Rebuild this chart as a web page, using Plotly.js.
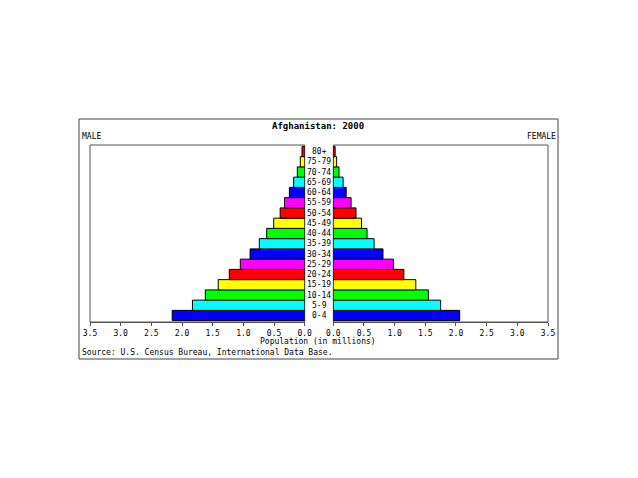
<!DOCTYPE html>
<html>
<head>
<meta charset="utf-8">
<script src="https://cdn.plot.ly/plotly-3.0.1.min.js"></script>
<style>html,body{margin:0;padding:0;background:#fff;}#chart{width:638px;height:478px;}</style>
</head>
<body>
<div id="chart"></div>
<script>
// Data
const ageGroups = ['0-4','5-9','10-14','15-19','20-24','25-29','30-34','35-39','40-44','45-49','50-54','55-59','60-64','65-69','70-74','75-79','80+'];
const maleMillions = [2.16,1.83,1.62,1.41,1.23,1.05,0.89,0.74,0.62,0.505,0.40,0.33,0.25,0.18,0.12,0.072,0.044];
const femaleMillions = [2.06,1.75,1.55,1.345,1.15,0.98,0.81,0.665,0.55,0.46,0.37,0.29,0.21,0.16,0.093,0.055,0.03];
const tickValues = [0,0.5,1,1.5,2,2.5,3,3.5];
const tickLabels = ['0.0','0.5','1.0','1.5','2.0','2.5','3.0','3.5'];

// Styles
const palette = ['#0000ff','#00ffff','#00ff00','#ffff00','#ff0000','#ff00ff'];
const barColors = ageGroups.map((_, i) => palette[i % palette.length]);
const W = 638, H = 478;
const px = x => x / W;
const py = y => (H - y) / H;
const mono = 'DejaVu Sans Mono, Liberation Mono, monospace';
const txt = {family: mono, size: 8, color: '#000'};

const leftDom = [px(90), px(304.7)];
const rightDom = [px(333.3), px(548)];
const yDom = [py(322), py(145)];

const traces = [
  {type:'bar', orientation:'h', y: ageGroups, x: maleMillions, xaxis:'x', yaxis:'y',
   marker:{color: barColors, line:{color:'#000', width:1}}, hoverinfo:'none'},
  {type:'bar', orientation:'h', y: ageGroups, x: femaleMillions, xaxis:'x2', yaxis:'y',
   marker:{color: barColors, line:{color:'#000', width:1}}, hoverinfo:'none'}
];

const xCommon = {
  tickvals: tickValues, ticktext: tickLabels, ticks:'outside', ticklen:3, tickcolor:'#555',
  showline:true, linecolor:'#555', linewidth:1, showgrid:false, zeroline:false,
  tickfont: txt, fixedrange:true
};

const annotations = ageGroups.map(a => ({
  x: 0.5, xref:'paper', y: a, yref:'y', text: a, showarrow:false,
  xanchor:'center', yanchor:'middle', font: txt
}));
annotations.push(
  {x: px(318), y: py(125.7), xref:'paper', yref:'paper', text:'<b>Afghanistan: 2000</b>', showarrow:false,
   xanchor:'center', yanchor:'middle', font:{family: mono, size: 9, color:'#000'}},
  {x: px(80), y: py(136.5), xref:'paper', yref:'paper', text:'MALE', showarrow:false,
   xanchor:'left', yanchor:'middle', font: txt},
  {x: px(557.5), y: py(136.5), xref:'paper', yref:'paper', text:'FEMALE', showarrow:false,
   xanchor:'right', yanchor:'middle', font: txt},
  {x: px(318), y: py(342), xref:'paper', yref:'paper', text:'Population (in millions)', showarrow:false,
   xanchor:'center', yanchor:'middle', font: txt},
  {x: px(80), y: py(352.5), xref:'paper', yref:'paper', text:'Source: U.S. Census Bureau, International Data Base.', showarrow:false,
   xanchor:'left', yanchor:'middle', font: txt}
);

const frame = {color:'#555', width:1};
const shapes = [
  {type:'rect', xref:'paper', yref:'paper', x0:px(79), x1:px(558), y0:py(359), y1:py(119), line:{color:'#444', width:1}},
  {type:'rect', xref:'paper', yref:'paper', x0:leftDom[0], x1:leftDom[1], y0:yDom[0], y1:yDom[1], line:frame, layer:'below'},
  {type:'rect', xref:'paper', yref:'paper', x0:rightDom[0], x1:rightDom[1], y0:yDom[0], y1:yDom[1], line:frame, layer:'below'}
];

const layout = {
  width: W, height: H,
  margin:{l:0, r:0, t:0, b:0},
  paper_bgcolor:'#fff', plot_bgcolor:'rgba(0,0,0,0)',
  showlegend:false, bargap:0,
  xaxis: Object.assign({}, xCommon, {domain: leftDom, range:[3.5, 0], anchor:'y'}),
  xaxis2: Object.assign({}, xCommon, {domain: rightDom, range:[0, 3.5], anchor:'y'}),
  yaxis: {domain: yDom, type:'category', categoryorder:'array', categoryarray: ageGroups,
          showticklabels:false, ticks:'', showline:false, showgrid:false, zeroline:false,
          anchor:'x', fixedrange:true},
  annotations: annotations,
  shapes: shapes
};

Plotly.newPlot('chart', traces, layout, {displayModeBar:false, staticPlot:true});
</script>
</body>
</html>
